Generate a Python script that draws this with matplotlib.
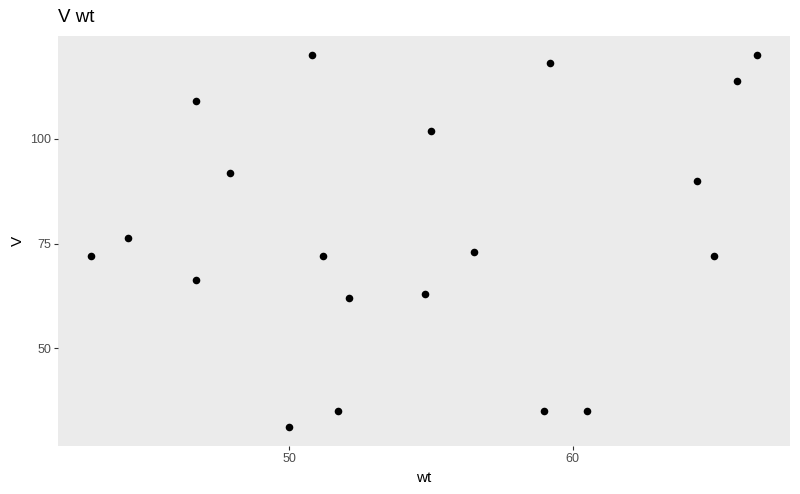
import matplotlib
matplotlib.use("Agg")
import matplotlib.pyplot as plt

plt.rcParams['font.family'] = ['Liberation Sans', 'DejaVu Sans']

wt = [43.0, 44.3, 46.7, 46.7, 47.9, 50.0, 50.8, 51.2, 51.7, 52.1,
      54.8, 55.0, 56.5, 59.0, 59.2, 60.5, 64.4, 65.0, 65.8, 66.5]
V = [72, 76.4, 109, 66.4, 91.8, 31.2, 120, 72, 35, 62,
     63, 101.8, 73, 35, 118, 35, 90, 72, 113.6, 120]
xticks = [50, 60]
yticks = [50, 75, 100]

fig = plt.figure(figsize=(8, 4.94), dpi=100)
ax = fig.add_axes([58/800, 48/494, 732/800, 410/494])
ax.set_facecolor('#EBEBEB')
ax.scatter(wt, V, s=30, color='black', zorder=3, linewidths=0)

xr = max(wt) - min(wt)
yr = max(V) - min(V)
ax.set_xlim(min(wt) - 0.05*xr, max(wt) + 0.05*xr)
ax.set_ylim(min(V) - 0.05*yr, max(V) + 0.05*yr)
ax.set_xticks(xticks)
ax.set_yticks(yticks)
ax.set_xticklabels([str(t) for t in xticks])
ax.set_yticklabels([str(t) for t in yticks])
for s in ax.spines.values():
    s.set_visible(False)
ax.tick_params(axis='both', colors='#333333', length=3, width=0.8,
               labelsize=9, labelcolor='#4D4D4D', pad=2)
ax.set_xlabel('wt', fontsize=11, labelpad=4)
ax.set_ylabel('V', fontsize=11, labelpad=4)
fig.text(58/800, 1 - 17/494, 'V wt', fontsize=13.5, ha='left', va='center')

fig.savefig('out.png', dpi=100)
